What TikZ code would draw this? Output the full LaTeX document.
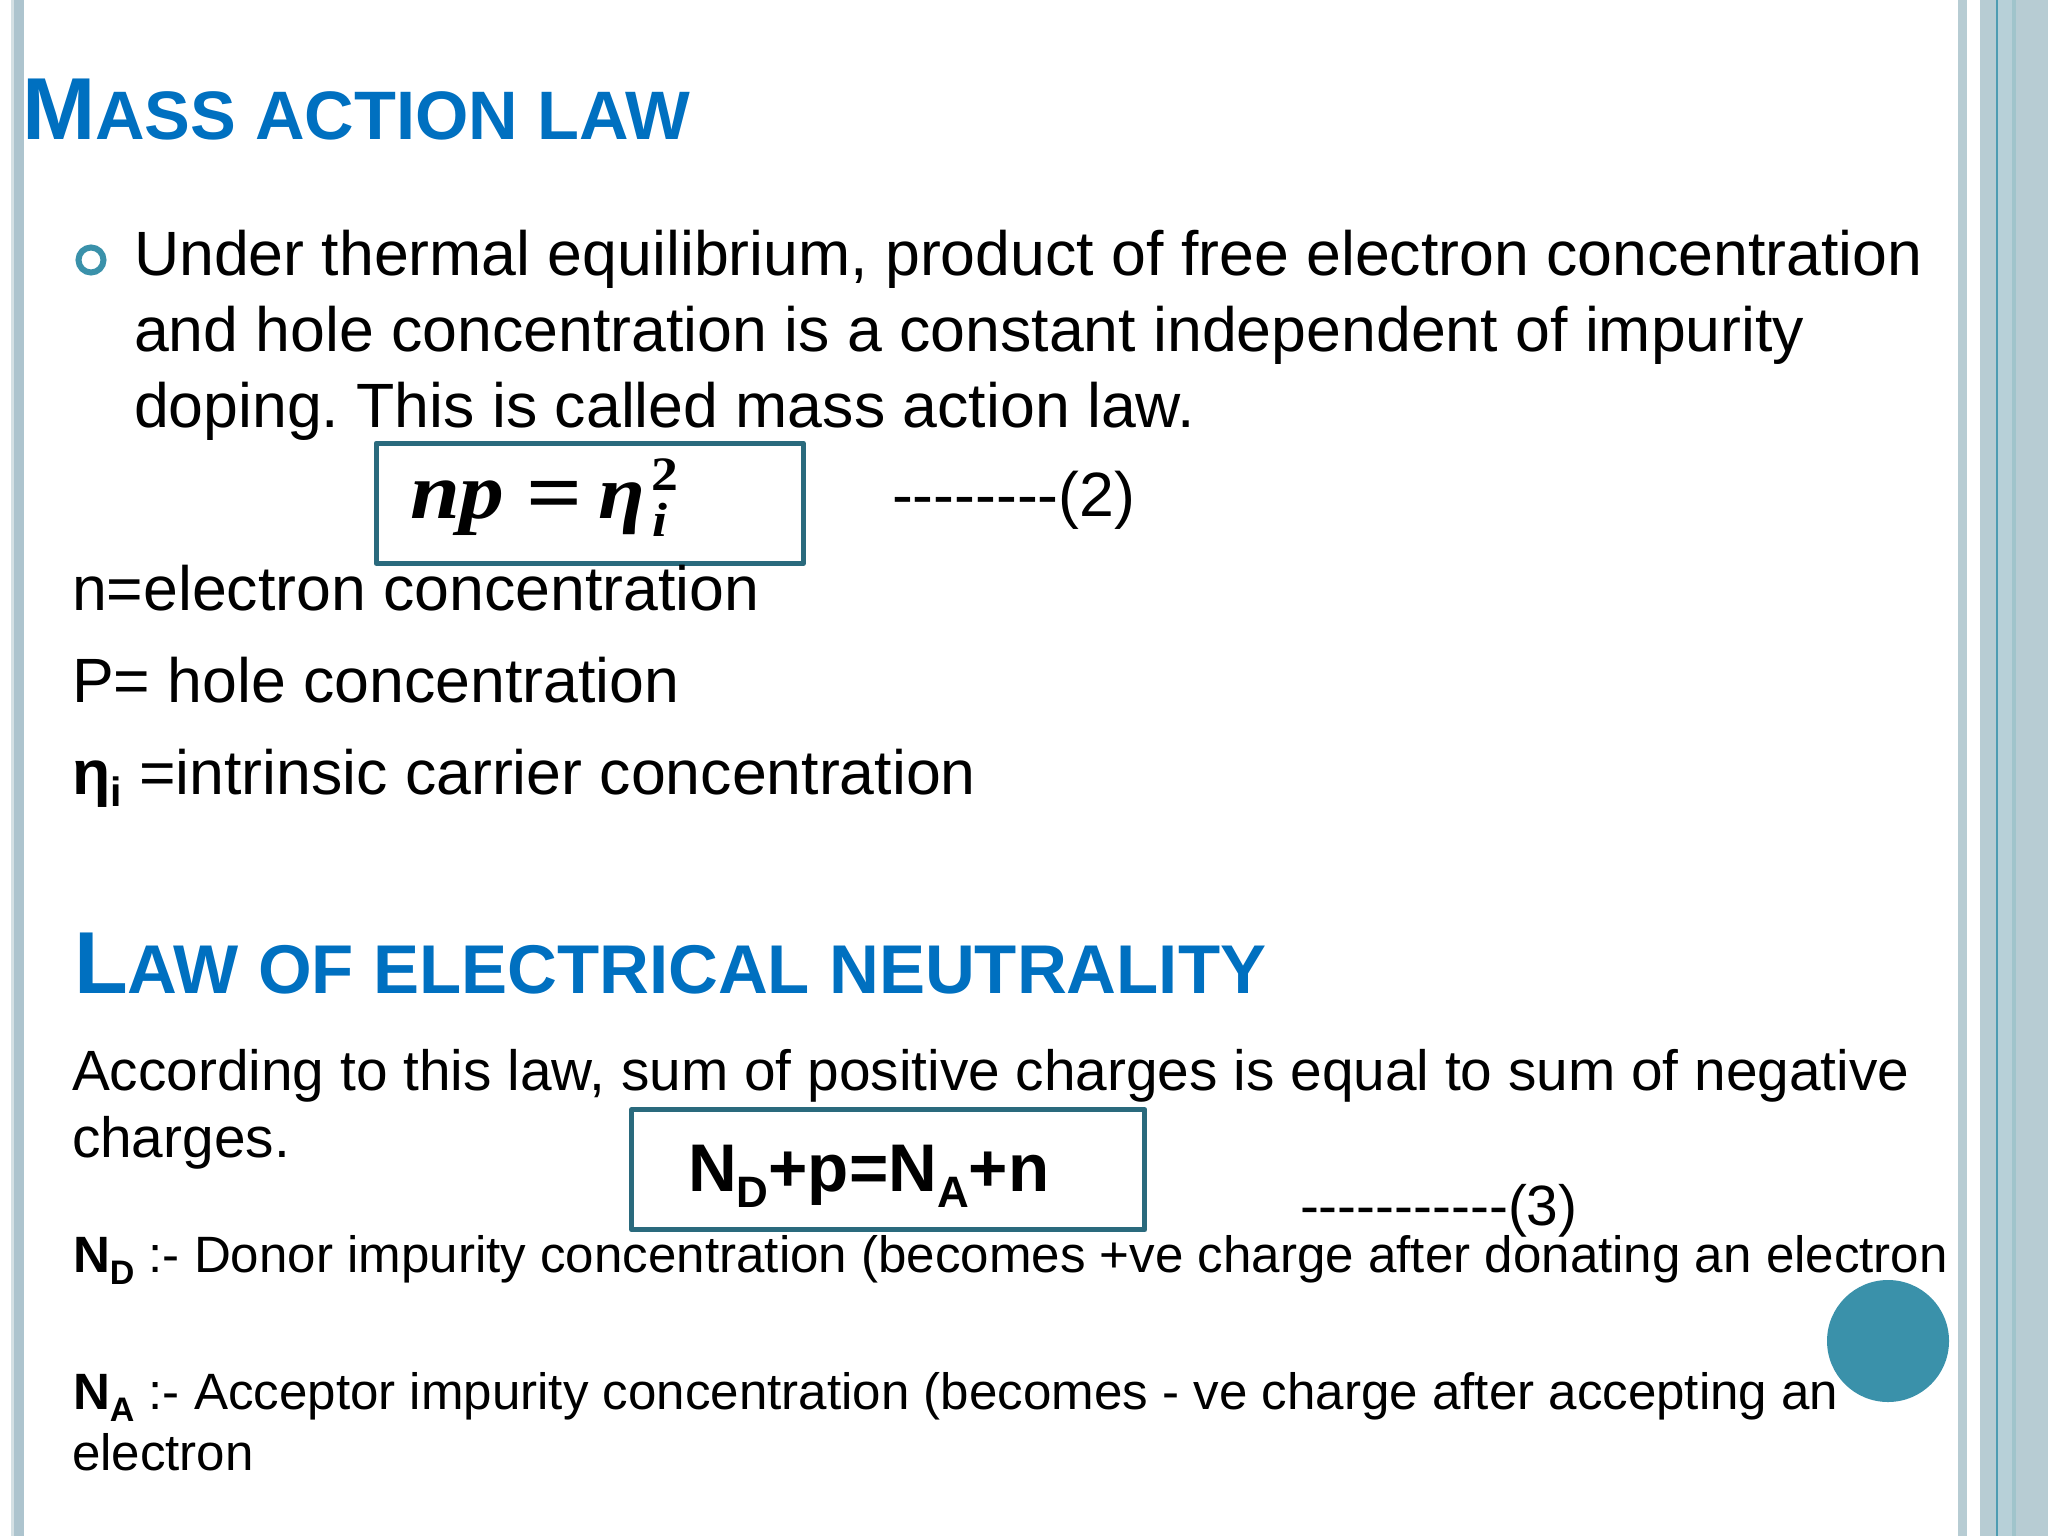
\documentclass[tikz,border=0pt]{standalone}
\usepackage{fontspec}
\setmainfont{Liberation Sans}
\newfontfamily\eqf[FakeStretch=1.12]{Liberation Serif}
\definecolor{titleblue}{RGB}{0,112,192}
\definecolor{ringteal}{RGB}{58,145,170}
\definecolor{boxteal}{RGB}{42,106,125}
\definecolor{stripe}{RGB}{183,204,211}
\definecolor{stripeb}{RGB}{183,208,216}
\definecolor{stripec}{RGB}{160,196,203}
\definecolor{stripel}{RGB}{173,196,206}
\newcommand{\fsz}[1]{\fontsize{#1}{#1}\selectfont}
\newcommand{\Ttl}[3][34.3]{{\fsz{44}#2}{\fsz{#1}#3}}
\newcommand{\hy}{-{}}
\frenchspacing
\tikzset{
  txt/.style={anchor=base west,inner sep=0pt,outer sep=0pt,text=black},
  body/.style={txt,font=\fsz{31.3}},
  bodyb/.style={txt,font=\fsz{28.4}},
  bodyc/.style={txt,font=\fsz{25.55}},
  head/.style={txt,text=titleblue,font=\bfseries},
  eqbox/.style={draw=boxteal,line width=2.7pt,line join=round,fill=white,inner sep=0pt,anchor=north west}
}
\begin{document}
\begin{tikzpicture}[x=0.5pt,y=-0.5pt]
\useasboundingbox (0,0) rectangle (2048,1536);
\fill[white] (0,0) rectangle (2048,1536);
% side bands
\fill[stripe!60] (11,0) rectangle (14,1536);
\fill[stripel] (14,0) rectangle (23.5,1536);
\fill[stripe] (1958,0) rectangle (1967,1536);
\fill[stripe] (1980,0) rectangle (1996,1536);
\fill[ringteal!90] (1996,0) rectangle (1998,1536);
\fill[stripeb] (1998,0) rectangle (2012,1536);
\fill[stripec] (2012,0) rectangle (2016,1536);
\fill[stripe] (2016,0) rectangle (2048,1536);
% boxes
\node[eqbox,minimum width=213.5pt,minimum height=60pt] (box1) at (373.5,440.5) {};
\node[eqbox,minimum width=256.5pt,minimum height=60pt] (box2) at (629,1107) {};
% headings
\node[head] (t1) at (22,140) {\Ttl{M}{ASS ACTION LAW}};
\node[head] (t2) at (74,993) {\Ttl[34.5]{L}{AW OF ELECTRICAL NEUTRALITY}};
% bullet
\node[circle,draw=ringteal,line width=3pt,fill=white,minimum size=12.5pt,inner sep=0pt] (bul) at (91,260) {};
% paragraph
\node[body] (l1) at (134,275) {Under thermal equilibrium, product of free electron concentration};
\node[body] (l2) at (134,351) {and hole concentration is a constant independent of impurity};
\node[body] (l3) at (134,427) {doping. This is called mass action law.};
% eq 1
\node[txt,font=\fsz{40}\eqf\bfseries\itshape] (eq1a) at (410,518) {np};
\node[txt,font=\fsz{44}\eqf\bfseries] (eq1b) at (526,522) {=};
\node[txt,font=\fsz{38}\eqf\bfseries\itshape] (eq1c) at (598,518) {η};
\node[txt,font=\fsz{24}\eqf\bfseries] (eq1d) at (651,490) {2};
\node[txt,font=\fsz{24}\eqf\bfseries\itshape] (eq1e) at (652,536) {i};
\node[body] (e2) at (892,516) {\hy\hy\hy\hy\hy\hy\hy\hy(2)};
\node[body] (d1) at (72,610) {n=electron concentration};
\node[body] (d2) at (72,702) {P= hole concentration};
\node[body] (d3) at (72,794) {\textbf{η\raisebox{-0.2em}{\fsz{20.5}i}} =intrinsic carrier concentration};
% law 2
\node[bodyb] (a1) at (72,1090) {According to this law, sum of positive charges is equal to sum of negative};
\node[bodyb] (a2) at (72,1157) {charges.};
\node[txt,font=\fsz{33.7}\bfseries] (eq2) at (688,1191) {N\raisebox{-0.25em}{\fsz{22}D}+p=N\raisebox{-0.25em}{\fsz{22}A}+n};
\node[txt,font=\fsz{28.4}] (e3) at (1300,1225) {\hy\hy\hy\hy\hy\hy\hy\hy\hy\hy\hy(3)};
\node[bodyc] (nd) at (73,1272) {\textbf{N\raisebox{-0.25em}{\fsz{17}D}} :- Donor impurity concentration (becomes +ve charge after donating an electron};
\node[bodyc] (na) at (73,1409) {\textbf{N\raisebox{-0.25em}{\fsz{17}A}} :- Acceptor impurity concentration (becomes - ve charge after accepting an};
\node[bodyc] (na2) at (72,1470) {electron};
\node[circle,fill=ringteal,minimum size=61pt,inner sep=0pt] (dot) at (1888,1341) {};
\end{tikzpicture}
\end{document}
